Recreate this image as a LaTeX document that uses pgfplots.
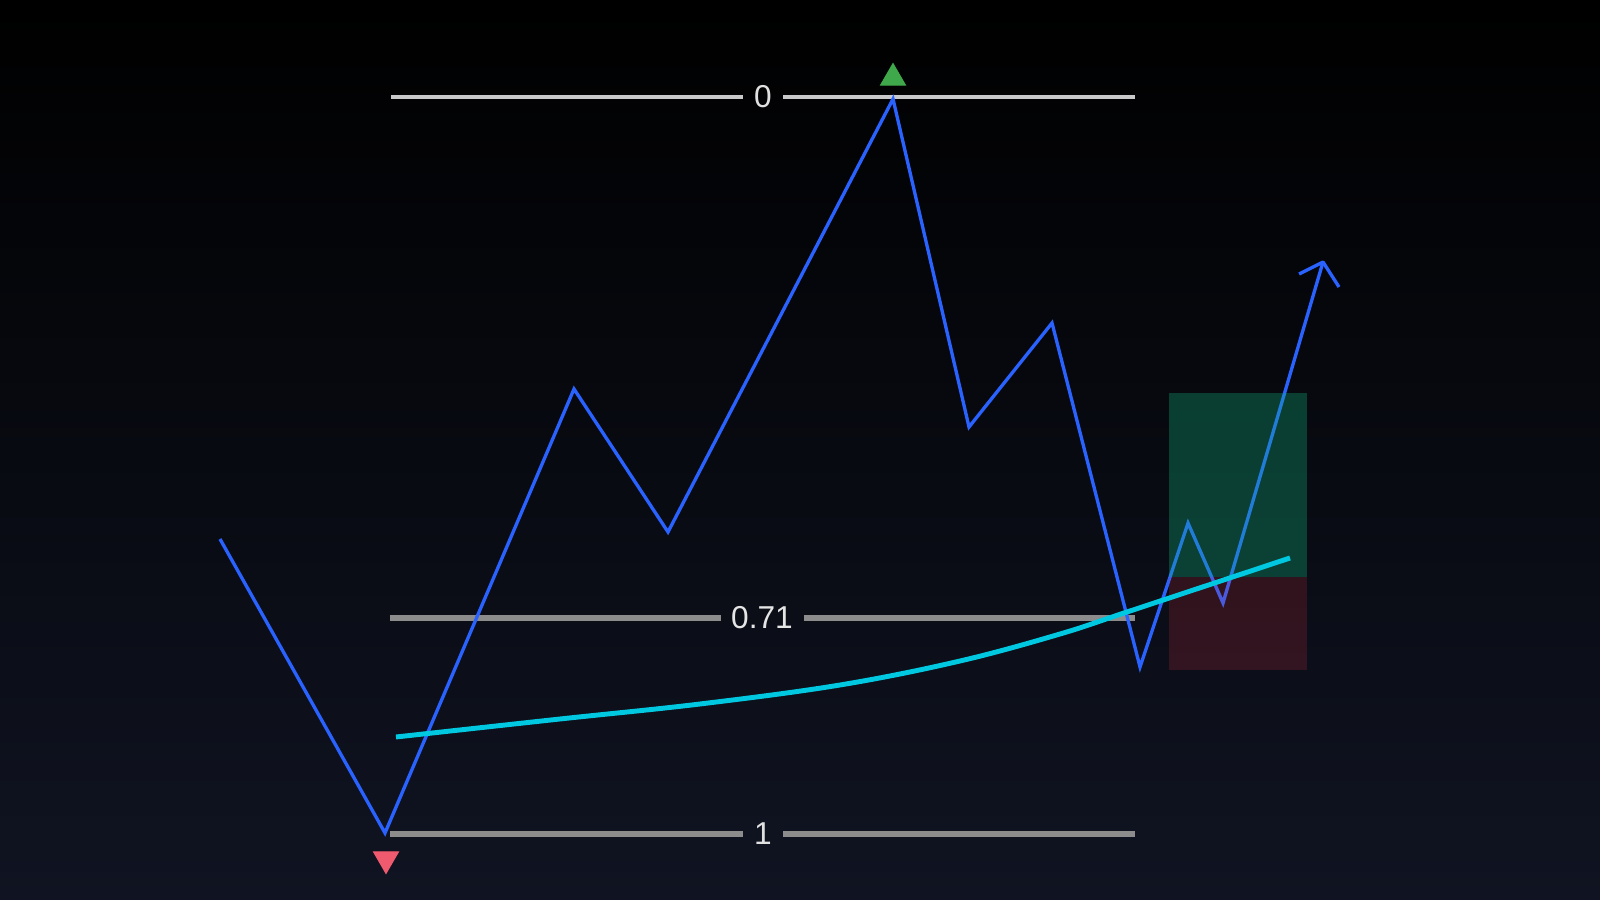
\documentclass[border=0pt]{standalone}
\usepackage{pgfplots}
\pgfplotsset{compat=1.18}
\usepackage{fontspec}
\setmainfont{Liberation Sans}

\definecolor{bgbot}{RGB}{16,20,34}
\definecolor{swing}{RGB}{41,98,255}
\definecolor{ema}{RGB}{0,200,224}
\definecolor{fibhi}{RGB}{200,200,200}
\definecolor{fib}{RGB}{140,140,140}
\definecolor{tp}{RGB}{16,185,129}
\definecolor{sl}{RGB}{242,54,69}
\definecolor{up}{RGB}{63,168,74}
\definecolor{dn}{RGB}{240,90,110}

\begin{document}
\begin{tikzpicture}
\begin{axis}[
scale only axis,
width=16cm,
height=9cm,
xmin=0, xmax=1600,
ymin=0, ymax=900,
y dir=reverse,
axis lines=none,
ticks=none,
axis background/.style={top color=black, bottom color=bgbot},
]
% fib levels (pixel space, y grows downward)
\addplot[fibhi, line width=1.1pt] coordinates {(391,97) (743,97)};
\addplot[fibhi, line width=1.1pt] coordinates {(783,97) (1135,97)};
\addplot[fib, line width=1.6pt] coordinates {(390,618) (721,618)};
\addplot[fib, line width=1.6pt] coordinates {(804,618) (1135,618)};
\addplot[fib, line width=1.6pt] coordinates {(390,834) (743,834)};
\addplot[fib, line width=1.6pt] coordinates {(783,834) (1135,834)};

% price swings
\addplot[swing, line width=0.95pt, line join=miter] coordinates {
(220,539) (385,833) (574,389) (668,532) (893,99) (969,427)
(1052,323) (1140,667) (1188,523) (1223,603) (1323,262)
};
\addplot[swing, line width=0.95pt, line join=round] coordinates {(1299,274) (1323,262) (1339,287)};

% trade boxes
\addplot[fill=tp, fill opacity=0.3, draw=none] coordinates {(1169,393) (1307,393) (1307,577) (1169,577)};
\addplot[fill=sl, fill opacity=0.17, draw=none] coordinates {(1169,577) (1307,577) (1307,670) (1169,670)};

% moving average
\addplot[ema, line width=1.4pt, smooth, tension=0.6] coordinates {
(396,737) (560,719) (700,704) (840,685) (960,661) (1060,634)
(1130,611) (1290,558)
};

% swing markers
\addplot[only marks, mark=triangle*, mark size=4pt, color=up] coordinates {(893,78)};
\addplot[only marks, mark=triangle*, mark size=4pt, color=dn,
  every mark/.append style={rotate=180}] coordinates {(386,859)};

\node[text=white!88!black, font=\fontsize{9}{10}\selectfont] at (axis cs:763,97) {0};
\node[text=white!90!black, font=\fontsize{9}{10}\selectfont] at (axis cs:762,618) {0.71};
\node[text=white!88!black, font=\fontsize{9}{10}\selectfont] at (axis cs:763,834) {1};
\end{axis}
\end{tikzpicture}
\end{document}
